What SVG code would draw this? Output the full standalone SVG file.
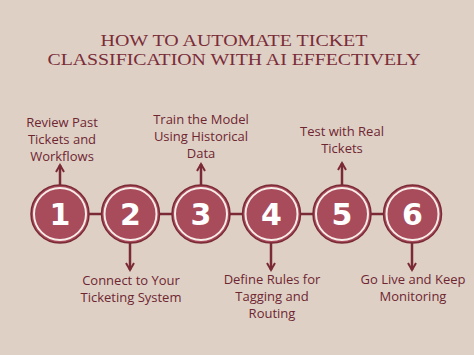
<svg xmlns="http://www.w3.org/2000/svg" width="474" height="355" viewBox="0 0 474 355">
<defs>
<style>
.title{font-family:"Liberation Serif",serif;font-size:17px;fill:#7a2d38;text-anchor:middle}
.lbl{font-family:"Open Sans","Noto Sans",sans-serif;font-size:13px;font-weight:500;fill:#6e2631;text-anchor:middle}
.num{font-family:"DejaVu Sans",sans-serif;font-size:30px;font-weight:bold;fill:#ffffff;text-anchor:middle}
.outer{fill:#a84b5b;stroke:#7a2a35;stroke-width:1.5}
.inner{fill:none;stroke:#f6ece8;stroke-width:2}
.ln{stroke:#7a2a35;stroke-width:2.5;fill:none}
</style>
<marker id="ah" viewBox="0 0 10 10" refX="8" refY="5" markerWidth="4" markerHeight="4" orient="auto">
<path d="M1,1 L8,5 L1,9" fill="none" stroke="#7a2a35" stroke-width="2"/>
</marker>
</defs>
<rect width="474" height="355" fill="#dfd0c6"/>
<g id="title">
<text class="title" x="234" y="46" textLength="267" lengthAdjust="spacingAndGlyphs">HOW TO AUTOMATE TICKET</text>
<text class="title" x="234" y="65" textLength="373" lengthAdjust="spacingAndGlyphs">CLASSIFICATION WITH AI EFFECTIVELY</text>
</g>
<g id="connectors">
<line class="ln" x1="89" y1="214" x2="101" y2="214"/>
<line class="ln" x1="160" y1="214" x2="172" y2="214"/>
<line class="ln" x1="230" y1="214" x2="242" y2="214"/>
<line class="ln" x1="301" y1="214" x2="313" y2="214"/>
<line class="ln" x1="371" y1="214" x2="383" y2="214"/>
<line class="ln" x1="60" y1="185" x2="60" y2="165" marker-end="url(#ah)"/>
<line class="ln" x1="201" y1="185" x2="201" y2="164" marker-end="url(#ah)"/>
<line class="ln" x1="342" y1="185" x2="342" y2="163" marker-end="url(#ah)"/>
<line class="ln" x1="130" y1="243" x2="130" y2="270" marker-end="url(#ah)"/>
<line class="ln" x1="271" y1="243" x2="271" y2="270" marker-end="url(#ah)"/>
<line class="ln" x1="412" y1="243" x2="412" y2="270" marker-end="url(#ah)"/>
</g>
<g id="n1">
<circle class="outer" cx="60" cy="214" r="29"/><circle class="inner" cx="60" cy="214" r="26"/>
<text class="num" x="60" y="225">1</text>
<text class="lbl" x="62" y="127">Review Past</text><text class="lbl" x="62" y="144">Tickets and</text><text class="lbl" x="62" y="161">Workflows</text>
</g>
<g id="n2">
<circle class="outer" cx="130.5" cy="214" r="29"/><circle class="inner" cx="130.5" cy="214" r="26"/>
<text class="num" x="130.5" y="225">2</text>
<text class="lbl" x="131" y="285">Connect to Your</text><text class="lbl" x="131" y="302">Ticketing System</text>
</g>
<g id="n3">
<circle class="outer" cx="201" cy="214" r="29"/><circle class="inner" cx="201" cy="214" r="26"/>
<text class="num" x="201" y="225">3</text>
<text class="lbl" x="201" y="124">Train the Model</text><text class="lbl" x="201" y="141">Using Historical</text><text class="lbl" x="201" y="158">Data</text>
</g>
<g id="n4">
<circle class="outer" cx="271.5" cy="214" r="29"/><circle class="inner" cx="271.5" cy="214" r="26"/>
<text class="num" x="271.5" y="225">4</text>
<text class="lbl" x="272" y="284">Define Rules for</text><text class="lbl" x="272" y="301">Tagging and</text><text class="lbl" x="272" y="318">Routing</text>
</g>
<g id="n5">
<circle class="outer" cx="342" cy="214" r="29"/><circle class="inner" cx="342" cy="214" r="26"/>
<text class="num" x="342" y="225">5</text>
<text class="lbl" x="342" y="136">Test with Real</text><text class="lbl" x="342" y="153">Tickets</text>
</g>
<g id="n6">
<circle class="outer" cx="412.5" cy="214" r="29"/><circle class="inner" cx="412.5" cy="214" r="26"/>
<text class="num" x="412.5" y="225">6</text>
<text class="lbl" x="413" y="284">Go Live and Keep</text><text class="lbl" x="413" y="301">Monitoring</text>
</g>
</svg>
